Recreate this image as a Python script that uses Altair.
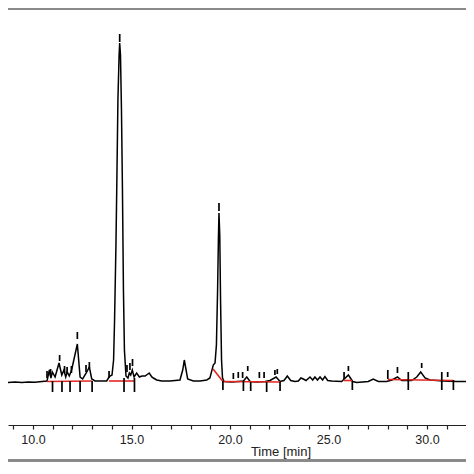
import altair as alt
import pandas as pd

# ---- chromatogram trace (time in min, signal in arbitrary units) ----
trace_time = [8.73, 9.09, 9.44, 9.75, 10.10, 10.46, 10.71, 10.83, 10.91, 10.98,
              11.12, 11.32, 11.46, 11.57, 11.66, 11.74, 11.84, 11.96, 12.25, 12.39,
              12.52, 12.73, 12.86, 12.98, 13.15, 13.74, 13.86, 13.91, 14.01, 14.09,
              14.14, 14.21, 14.26, 14.31, 14.37, 14.40, 14.44, 14.49, 14.54, 14.59,
              14.64, 14.72, 14.82, 14.89, 14.96, 15.04, 15.13, 15.26, 15.40, 15.53,
              15.69, 15.90, 16.03, 16.11, 16.28, 16.53, 16.95, 17.46, 17.60, 17.68,
              17.77, 17.85, 18.14, 18.48, 18.82, 18.98, 19.15, 19.24, 19.31, 19.37,
              19.41, 19.44, 19.48, 19.52, 19.57, 19.62, 19.70, 20.09, 20.42, 20.68,
              20.85, 21.02, 21.36, 21.78, 22.03, 22.34, 22.54, 22.74, 22.91, 23.08,
              23.30, 23.47, 23.60, 23.72, 23.86, 24.06, 24.20, 24.31, 24.44, 24.57,
              24.70, 24.82, 24.96, 25.16, 25.67, 26.01, 26.23, 26.43, 27.02, 27.27,
              27.53, 27.95, 28.22, 28.50, 28.72, 29.22, 29.48, 29.68, 29.90, 30.15,
              30.83, 31.51, 31.98]
trace_signal = [-0.5, 0, -0.5, 0, -0.3, 0.5, 1, 12, 4, 10,
                5, 19, 7, 12, 5, 10, 6, 12, 38, 5,
                3, 10, 15, 3, 1, 1, 5, 6, 7, 22,
                62, 137, 207, 282, 327, 339, 327, 272, 192, 92,
                32, 6, 4, 9, 7, 12, 5, 9, 5, 6,
                6, 9, 5, 4, 2, 1, 1, 2, 12, 22,
                12, 3, 1, 1, 2, 4, 17, 19, 37, 92,
                142, 169, 147, 82, 22, 4, 0.5, 0, 0.5, 1,
                5, 0.5, 0, 0.5, 1.5, 5, 0.5, 1.5, 6, 1.5,
                0.5, 1, 4, 3, 1.5, 5, 2, 5, 2, 5,
                2, 5.5, 1.5, 1, 0.5, 7, 0.5, -0.5, 0.5, 3,
                0.5, 0.5, 2, 5, 1.5, 1.5, 5, 10, 4, 2,
                1, 0.5, 0.5]

# ---- integration baselines (red) ----
base_t1 = [10.71, 13.86, 19.14, 19.64, 25.79, 28.01]
base_v1 = [0.5, 1, 13, 0.5, 1.5, 2.5]
base_t2 = [12.98, 15.15, 19.64, 22.54, 26.21, 31.34]
base_v2 = [1, 1, 0.5, 0, 1.5, 1.5]

# ---- peak marks (black ticks) ----
mark_t = [10.71, 10.89, 10.99, 11.35, 11.47, 11.60, 11.73, 11.88, 11.95, 12.25,
          12.39, 12.69, 12.86, 13.00, 13.86, 14.40, 14.62, 14.77, 14.92, 15.05,
          15.15, 19.44, 19.64, 20.17, 20.42, 20.64, 20.68, 20.90, 21.05, 21.49,
          21.73, 21.86, 22.28, 22.40, 22.54, 25.79, 26.01, 26.21, 28.01, 28.50,
          29.05, 29.73, 30.75, 31.05, 31.34]
mark_top = [11, 13, 1, 27, 1, 16, 15, 1, 16, 50,
            1, 17, 20, 1, 11, 348, 4, 17, 19, 23,
            4, 179, 1, 9, 10, 10, 1, 16, 0, 10,
            10, 0, 12, 13, 0, 10, 16, 1, 12, 15,
            10, 19, 10, 10, 2]
mark_bottom = [4, 6, -10, 21, -10, 9, 8, -10, 9, 43,
               -10, 10, 14, -10, 4, 340, -10, 10, 12, 16,
               -10, 171, -8, 3, 4, 4, -9, 11, -9, 4,
               4, -10, 7, 8, -9, 3, 11, -8, 3, 9,
               -8, 14, -8, 5, -8]

tick_values = list(range(9, 32))

trace = pd.DataFrame({"time": trace_time, "signal": trace_signal})
bases = pd.DataFrame({"t1": base_t1, "v1": base_v1, "t2": base_t2, "v2": base_v2})
marks = pd.DataFrame({"t": mark_t, "top": mark_top, "bottom": mark_bottom})

xscale = alt.Scale(domain=[8.73, 31.98], nice=False, zero=False)
yscale = alt.Scale(domain=[-80, 374], nice=False, zero=False)

xaxis = alt.Axis(values=tick_values, offset=-37, tickSize=4, labelPadding=4,
                 labelExpr="datum.value % 5 == 0 ? format(datum.value, '.1f') : ''",
                 labelFont="Liberation Sans", labelFontSize=12.5, labelColor="#222",
                 domainColor="#222", tickColor="#222", domainWidth=1.2, tickWidth=1.2,
                 grid=False, title="Time [min]", titleFont="Liberation Sans",
                 titleFontSize=13, titleFontWeight="normal", titleColor="#222",
                 titleX=272.5, titleY=30, titleAlign="center",
                 titleBaseline="alphabetic", labelFlush=False, labelOverlap=False)

line = alt.Chart(trace).mark_line(color="black", strokeWidth=1.5, interpolate="linear").encode(
    x=alt.X("time:Q", scale=xscale, axis=xaxis),
    y=alt.Y("signal:Q", scale=yscale, axis=None),
    order="time:Q",
)

red = alt.Chart(bases).mark_rule(color="#e3261f", strokeWidth=1.6).encode(
    x=alt.X("t1:Q", scale=xscale, axis=xaxis),
    x2="t2:Q",
    y=alt.Y("v1:Q", scale=yscale, axis=None),
    y2="v2:Q",
)

ticks = alt.Chart(marks).mark_rule(color="black", strokeWidth=1.7).encode(
    x=alt.X("t:Q", scale=xscale, axis=xaxis),
    y=alt.Y("top:Q", scale=yscale, axis=None),
    y2="bottom:Q",
)

frame_top = alt.Chart(trace).mark_rule(color="#8a8a8a", strokeWidth=2).encode(
    x=alt.value(0), x2=alt.value(458), y=alt.value(0.5))
frame_bottom = alt.Chart(trace).mark_rule(color="#8a8a8a", strokeWidth=2).encode(
    x=alt.value(0), x2=alt.value(458), y=alt.value(452.5))

chart = alt.layer(line, red, ticks, frame_top, frame_bottom).properties(
    width=458, height=454,
    autosize=alt.AutoSizeParams(type="none"),
    padding=0,
).configure_view(stroke=None)

chart.save("out.html", embed_options={"renderer": "svg", "actions": False})
